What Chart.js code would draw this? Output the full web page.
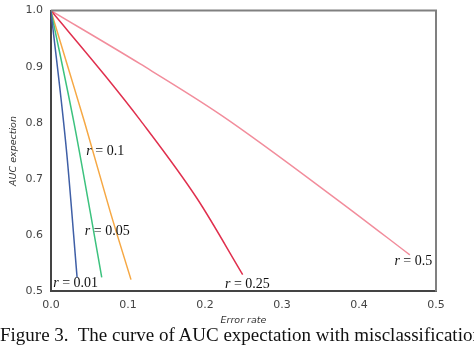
<!DOCTYPE html>
<html lang="en">
<head>
    <meta charset="UTF-8">
    <title>AUC expectation</title>
    <script src="https://cdn.jsdelivr.net/npm/chart.js"></script>
    <style>
        body { margin: 0; background: #fff; width: 474px; height: 354px; overflow: hidden; }
        #wrap { position: absolute; left: 0; top: 0; width: 474px; height: 326px; }
        #caption {
            position: absolute; left: 0; top: 324px; width: 474px;
            font-family: 'Liberation Serif', serif; font-size: 19px; color: #111;
            white-space: nowrap; overflow: hidden;
        }
    </style>
</head>
<body>
    <div id="wrap"><canvas id="chart"></canvas></div>
    <div id="caption">Figure 3.&nbsp; The curve of AUC expectation with misclassification</div>
    <script>
        // values
        const rLabels = ['r = 0.01', 'r = 0.05', 'r = 0.1', 'r = 0.25', 'r = 0.5'];
        const colors = ['#3f5fa6', '#3cc27e', '#f6a844', '#e0304e', '#f28d9c'];

        const errR001 = [0, 0.0205, 0.034];
        const aucR001 = [1, 0.747, 0.525];
        const errR005 = [0, 0.030, 0.051, 0.066];
        const aucR005 = [1, 0.8, 0.642, 0.525];
        const errR01 = [0, 0.022, 0.044, 0.077, 0.104];
        const aucR01 = [1, 0.9, 0.8, 0.642, 0.521];
        const errR025 = [0, 0.0705, 0.116, 0.19, 0.249];
        const aucR025 = [1, 0.884, 0.805, 0.665, 0.53];
        const errR05 = [0, 0.116, 0.221, 0.375, 0.466];
        const aucR05 = [1, 0.905, 0.814, 0.66, 0.565];

        // where the r labels sit, in data units
        const labelX = [0.003, 0.044, 0.046, 0.226, 0.446];
        const labelY = [0.514, 0.607, 0.749, 0.512, 0.553];

        const xTicks = [0, 0.1, 0.2, 0.3, 0.4, 0.5];
        const yTicks = [0.5, 0.6, 0.7, 0.8, 0.9, 1.0];

        const series = [
            [errR001, aucR001], [errR005, aucR005], [errR01, aucR01],
            [errR025, aucR025], [errR05, aucR05]
        ];

        const datasets = series.map(([xs, ys], i) => ({
            label: rLabels[i],
            data: xs.map((x, j) => ({ x, y: ys[j] })),
            borderColor: colors[i],
            backgroundColor: colors[i],
            borderWidth: 1.5,
            pointRadius: 0,
            showLine: true,
            cubicInterpolationMode: 'monotone',
        }));

        const extras = {
            id: 'extras',
            afterDatasetsDraw(chart) {
                const { ctx, chartArea: a, scales: { x, y } } = chart;
                ctx.save();
                // frame on top and right
                ctx.strokeStyle = '#808080';
                ctx.lineWidth = 2;
                ctx.beginPath();
                ctx.moveTo(a.left, a.top);
                ctx.lineTo(a.right, a.top);
                ctx.lineTo(a.right, a.bottom);
                ctx.stroke();
                // curve labels
                ctx.fillStyle = '#111';
                ctx.textBaseline = 'middle';
                rLabels.forEach((t, i) => {
                    const px = x.getPixelForValue(labelX[i]);
                    const py = y.getPixelForValue(labelY[i]);
                    ctx.font = 'italic 14px "Liberation Serif"';
                    ctx.fillText('r', px, py);
                    const w = ctx.measureText('r').width;
                    ctx.font = '14px "Liberation Serif"';
                    ctx.fillText(t.slice(1), px + w, py);
                });
                ctx.restore();
            }
        };

        new Chart(document.getElementById('chart'), {
            type: 'scatter',
            data: { datasets },
            options: {
                responsive: true,
                maintainAspectRatio: false,
                animation: false,
                layout: { padding: { left: 8, top: 3, right: 38, bottom: 0 } },
                plugins: {
                    legend: { display: false },
                    tooltip: { enabled: false }
                },
                scales: {
                    x: {
                        type: 'linear', min: 0, max: 0.5,
                        afterBuildTicks: s => { s.ticks = xTicks.map(v => ({ value: v })); },
                        grid: { display: false, drawTicks: true, tickLength: 4, tickColor: '#444' },
                        border: { color: '#444', width: 2 },
                        ticks: { color: '#444', font: { family: 'DejaVu Sans', size: 11 }, padding: 3,
                                 callback: v => v.toFixed(1) },
                        title: { display: true, text: 'Error rate', color: '#333', padding: { top: 0, bottom: 0 },
                                 font: { family: 'DejaVu Sans', size: 9.5, style: 'italic' } }
                    },
                    y: {
                        type: 'linear', min: 0.5, max: 1.0,
                        afterBuildTicks: s => { s.ticks = yTicks.map(v => ({ value: v })); },
                        grid: { display: false, drawTicks: true, tickLength: 4, tickColor: '#444' },
                        border: { color: '#444', width: 2 },
                        ticks: { color: '#444', font: { family: 'DejaVu Sans', size: 11 }, padding: 4,
                                 callback: v => v.toFixed(1) },
                        title: { display: true, text: 'AUC expection', color: '#333', padding: { top: 0, bottom: 2 },
                                 font: { family: 'DejaVu Sans', size: 9.5, style: 'italic' } }
                    }
                }
            },
            plugins: [extras]
        });
    </script>
</body>
</html>
